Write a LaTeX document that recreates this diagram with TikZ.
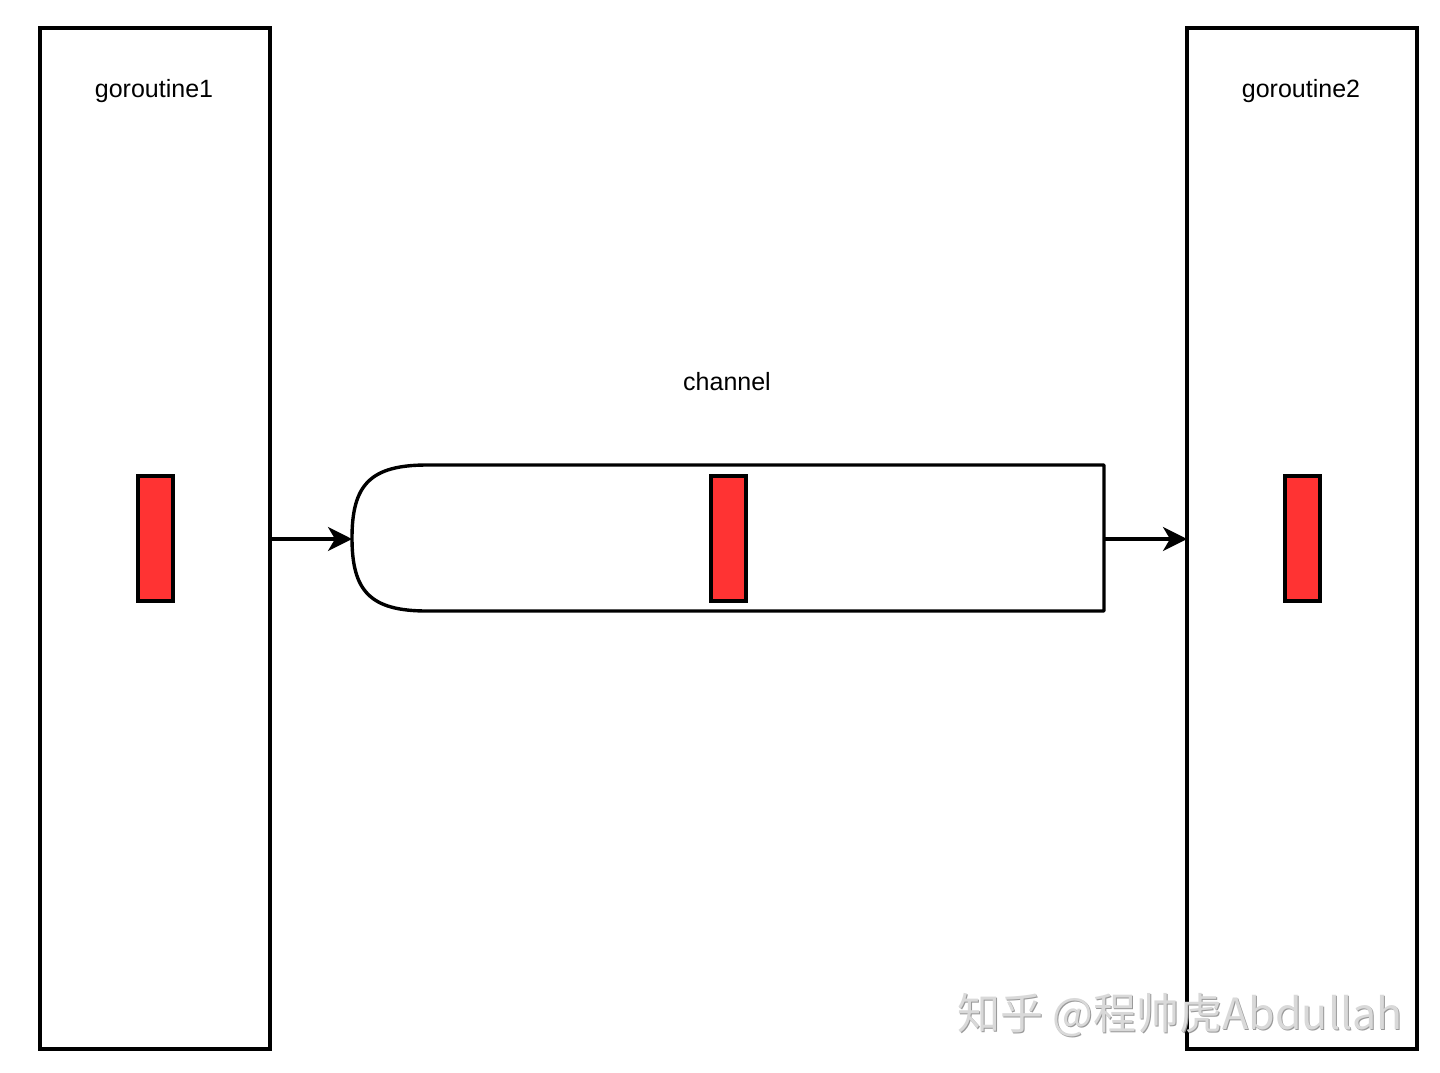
\documentclass[tikz,border=0pt]{standalone}
\usepackage{fontspec}
\setmainfont{Liberation Sans}
\newfontfamily\cjk{Noto Sans CJK SC}
\usetikzlibrary{arrows.meta}
\definecolor{cred}{HTML}{FF3333}
\begin{document}
\begin{tikzpicture}[x=1pt,y=-1pt,
  frame/.style={draw=black,line width=3.4pt,fill=white},
  token/.style={draw=black,line width=3.4pt,fill=cred},
  lbl/.style={font=\fontsize{25}{30}\selectfont,inner sep=0pt},
  flow/.style={line width=3.4pt,-{Stealth[length=24pt,width=24pt,inset=7pt]}}]
\useasboundingbox[fill=white] (0,0) rectangle (1440,1073);
% goroutine boxes
\draw[frame] (40,28) rectangle (270,1049);
\draw[frame] (1187,28) rectangle (1417,1049);
\coordinate (g1) at (270,539);
\coordinate (g2) at (1187,539);
\node[lbl] (t1) at (154,91) {goroutine1};
\node[lbl] (t2) at (1301,91) {goroutine2};
% channel
\draw[frame,line join=round] (1104,465) -- (427,465)
  .. controls (370,465) and (352,485) .. (352,538)
  .. controls (352,591) and (370,611) .. (427,611) -- (1104,611) -- cycle;
\coordinate (cin) at (352,539);
\coordinate (cout) at (1104,539);
\node[lbl] (tc) at (727,382) {channel};
% tokens
\draw[token] (138,476) rectangle (173,601);
\draw[token] (711,476) rectangle (746,601);
\draw[token] (1285,476) rectangle (1320,601);
% arrows
\draw[flow] (g1) -- (cin);
\draw[flow] (cout) -- (g2);
% watermark
\node[inner sep=0pt,anchor=west,text=black!40,font=\cjk\fontsize{43}{50}\selectfont] (wms) at (958,1016) {知乎 @程帅虎Abdullah};
\node[inner sep=0pt,anchor=west,text=black!15,font=\cjk\fontsize{43}{50}\selectfont] (wm) at (957,1015) {知乎 @程帅虎Abdullah};
\end{tikzpicture}
\end{document}
